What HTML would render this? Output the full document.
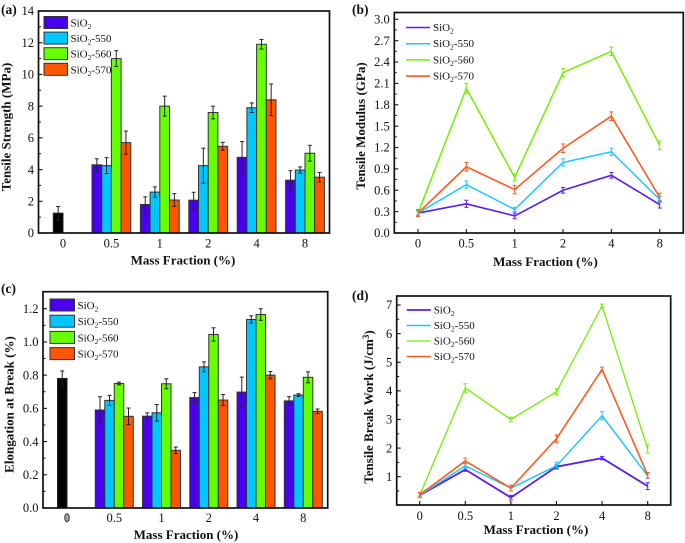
<!DOCTYPE html>
<html lang="en">
<head>
<meta charset="utf-8">
<title>SiO2 composite mechanical properties</title>
<style>
html,body{margin:0;padding:0;background:#fff;}
svg{display:block;}
text{font-family:"Liberation Serif",serif;fill:#111;}
</style>
</head>
<body>
<svg id="figure" width="685" height="543" viewBox="0 0 685 543" xmlns="http://www.w3.org/2000/svg"></svg>
<script>
const categories = ['0','0.5','1','2','4','8'];
const seriesNames = ['SiO2','SiO2-550','SiO2-560','SiO2-570'];
const barColors = ['#4a00f0','#00c8ff','#66ff00','#ff5500'];
const lineColors = ['#5a1cf5','#1cc8ff','#70f000','#ff5a1e'];

const strengthTicks = ['0','2','4','6','8','10','12','14'];
const strengthControl = 1.25;
const strengthControlErr = 0.42;
const strengthSiO2 = [4.3,1.8,2.07,4.77,3.33];
const strengthSiO2Err = [0.38,0.48,0.5,1.0,0.6];
const strength550 = [4.25,2.58,4.25,7.9,3.97];
const strength550Err = [0.5,0.33,1.1,0.3,0.2];
const strength560 = [11.0,8.0,7.6,11.9,5.03];
const strength560Err = [0.5,0.63,0.4,0.3,0.5];
const strength570 = [5.7,2.08,5.47,8.4,3.52];
const strength570Err = [0.73,0.4,0.25,1.0,0.3];

const modulusTicks = ['0.0','0.3','0.6','0.9','1.2','1.5','1.8','2.1','2.4','2.7','3.0'];
const modulusSiO2 = [0.28,0.41,0.24,0.6,0.81,0.4];
const modulusSiO2Err = [0.03,0.05,0.04,0.04,0.04,0.05];
const modulus550 = [0.28,0.68,0.33,0.99,1.14,0.47];
const modulus550Err = [0.03,0.05,0.03,0.05,0.05,0.04];
const modulus560 = [0.28,2.03,0.78,2.25,2.55,1.23];
const modulus560Err = [0.04,0.07,0.05,0.06,0.06,0.06];
const modulus570 = [0.28,0.93,0.61,1.19,1.64,0.5];
const modulus570Err = [0.05,0.06,0.06,0.06,0.06,0.06];

const elongationTicks = ['0.0','0.2','0.4','0.6','0.8','1.0','1.2'];
const elongationControl = 0.78;
const elongationControlErr = 0.045;
const elongationSiO2 = [0.59,0.553,0.665,0.698,0.645];
const elongationSiO2Err = [0.08,0.02,0.03,0.09,0.025];
const elongation550 = [0.648,0.573,0.85,1.135,0.68];
const elongation550Err = [0.03,0.05,0.03,0.022,0.008];
const elongation560 = [0.75,0.748,1.045,1.165,0.787];
const elongation560Err = [0.008,0.03,0.04,0.035,0.033];
const elongation570 = [0.552,0.347,0.65,0.8,0.582];
const elongation570Err = [0.05,0.02,0.033,0.022,0.014];

const workTicks = ['1','2','3','4','5','6','7'];
const workSiO2 = [0.35,1.25,0.27,1.35,1.65,0.67];
const workSiO2Err = [0.08,0.06,0.08,0.06,0.06,0.12];
const work550 = [0.35,1.38,0.6,1.38,3.13,1.03];
const work550Err = [0.08,0.08,0.1,0.13,0.14,0.1];
const work560 = [0.35,4.1,3.0,3.97,6.97,1.97];
const work560Err = [0.08,0.15,0.08,0.1,0.06,0.14];
const work570 = [0.37,1.55,0.6,2.33,4.75,1.05];
const work570Err = [0.08,0.1,0.1,0.13,0.08,0.1];

const NS = 'http://www.w3.org/2000/svg';
const root = document.getElementById('figure');

function make(tag, parent, attrs) {
  const el = document.createElementNS(NS, tag);
  for (const k in attrs) el.setAttribute(k, attrs[k]);
  parent.appendChild(el);
  return el;
}
function linear(d0, d1, r0, r1) {
  return v => r0 + (v - d0) * (r1 - r0) / (d1 - d0);
}
function seriesLabel(parent, name, x, y, size) {
  const t = make('text', parent, {x: x, y: y, 'font-size': size});
  
  
  const rest = name.slice(4);
  t.appendChild(document.createTextNode('SiO'));
  const sub = make('tspan', t, {dy: 2.5, 'font-size': size * 0.68});
  sub.textContent = '2';
  if (rest) {
    const r = make('tspan', t, {dy: -2.5});
    r.textContent = rest;
  }
}
function errorBar(parent, x, yTop, yBottom, color, cap, width) {
  const g = make('g', parent, {stroke: color, 'stroke-width': width, fill: 'none'});
  
  
  make('line', g, {x1: x, x2: x, y1: yTop, y2: yBottom});
  make('line', g, {x1: x - cap, x2: x + cap, y1: yTop, y2: yTop});
  make('line', g, {x1: x - cap, x2: x + cap, y1: yBottom, y2: yBottom});
}
function drawAxes(g, p) {
  const xs = p.xScale, ys = p.yScale;
  const frame = make('rect', g, {x: p.left, y: p.top, width: p.right - p.left, height: p.bottom - p.top, fill: 'none', stroke: '#111', 'stroke-width': 1.7});
  
  
  const yAxis = make('g', g, {});
  
  
  p.ticks.forEach((label, i) => {
    const v = parseFloat(label);
    const y = ys(v);
    make('line', yAxis, {x1: p.left, x2: p.left + 4, y1: y, y2: y, stroke: '#111', 'stroke-width': 1.1});
    const t = make('text', yAxis, {x: p.left - 4.5, y: y + 4.2, 'font-size': 12.5, 'text-anchor': 'end'});
    
    
    t.textContent = label;
    const m = v + p.minor;
    if (ys(m) > p.top) make('line', yAxis, {x1: p.left, x2: p.left + 2.5, y1: ys(m), y2: ys(m), stroke: '#111', 'stroke-width': 1});
    if (i === 0 && v - p.minor >= 0) make('line', yAxis, {x1: p.left, x2: p.left + 2.5, y1: ys(v - p.minor), y2: ys(v - p.minor), stroke: '#111', 'stroke-width': 1});
  });
  const xAxis = make('g', g, {});
  
  
  categories.forEach((c, i) => {
    const x = xs(i);
    if (p.xTicks) make('line', xAxis, {x1: x, x2: x, y1: p.bottom, y2: p.bottom - 4, stroke: '#111', 'stroke-width': 1.1});
    const t = make('text', xAxis, {x: x, y: p.bottom + p.tickGap, 'font-size': 12.5, 'text-anchor': 'middle'});
    
    
    t.textContent = c;
  });
  if (p.zeroMark) make('line', xAxis, {x1: xs(0), x2: xs(0), y1: p.bottom + p.tickGap - 9, y2: p.bottom + p.tickGap + 0.5, stroke: '#333', 'stroke-width': 0.9});
  const xt = make('text', g, {x: p.xTitleX, y: p.xTitleY, 'font-size': 13, 'font-weight': 'bold', 'text-anchor': 'middle'});
  
  
  xt.textContent = 'Mass Fraction (%)';
  const yt = make('text', g, {x: 0, y: 0, 'font-size': 13, 'font-weight': 'bold', 'text-anchor': 'middle', transform: 'translate(' + p.yTitleX + ',' + p.yTitleY + ') rotate(-90)'});
  
  
  yt.textContent = p.yTitle;
  if (p.sup) {
    const s = make('tspan', yt, {dy: -4, 'font-size': 9});
    s.textContent = p.sup;
    const e = make('tspan', yt, {dy: 4});
    e.textContent = ')';
  }
  const pl = make('text', g, {x: p.tagX, y: p.tagY, 'font-size': 13.5, 'font-weight': 'bold'});
  
  
  pl.textContent = p.tag;
}
function drawBarPanel(name, p, control, controlErr, values, errors) {
  const g = make('g', root, {});
  
  
  p.xScale = linear(0, 5, p.x0, p.x5);
  p.yScale = linear(p.yMin, p.yMax, p.y0, p.y1);
  const ys = p.yScale, xs = p.xScale, bw = p.barW;
  const cx = xs(0) - bw / 2;
  const cb = make('rect', g, {x: cx - bw / 2, y: ys(control), width: bw, height: ys(0) - ys(control), fill: '#000', stroke: '#222', 'stroke-width': 1});
  
  
  errorBar(g, cx, ys(control + controlErr), ys(control - controlErr), '#222', 2, 1);
  values.forEach((series, s) => {
    series.forEach((v, i) => {
      const x = xs(i + 1) + (s - 1.5) * bw;
      const r = make('rect', g, {x: x - bw / 2, y: ys(v), width: bw, height: ys(0) - ys(v), fill: barColors[s], stroke: '#333', 'stroke-width': 1});
      
      
      errorBar(g, x, ys(v + errors[s][i]), ys(v - errors[s][i]), '#222', 2, 1);
    });
  });
  drawAxes(g, p);
  const lg = make('g', g, {});
  
  
  seriesNames.forEach((n, s) => {
    const sw = make('rect', lg, {x: p.lgX, y: p.lgY + s * p.lgStep, width: p.lgW, height: 12, fill: barColors[s], stroke: '#333', 'stroke-width': 1});
    
    
    seriesLabel(lg, n, p.lgX + p.lgW + 3, p.lgY + s * p.lgStep + 10, 11);
  });
}
function drawLinePanel(name, p, values, errors) {
  const g = make('g', root, {});
  
  
  p.xScale = linear(0, 5, p.x0, p.x5);
  p.yScale = linear(p.yMin, p.yMax, p.y0, p.y1);
  const ys = p.yScale, xs = p.xScale;
  values.forEach((series, s) => {
    const pts = series.map((v, i) => xs(i) + ',' + ys(v)).join(' ');
    const l = make('polyline', g, {points: pts, fill: 'none', stroke: lineColors[s], 'stroke-width': p.lineW[s], 'stroke-linejoin': 'miter'});
    
    
    series.forEach((v, i) => {
      errorBar(g, xs(i), ys(v + errors[s][i]), ys(v - errors[s][i]), lineColors[s], 2, 1);
    });
  });
  drawAxes(g, p);
  const lg = make('g', g, {});
  
  
  seriesNames.forEach((n, s) => {
    const y = p.lgY + s * p.lgStep;
    const ll = make('line', lg, {x1: p.lgX, x2: p.lgX + 24, y1: y, y2: y, stroke: lineColors[s], 'stroke-width': p.lineW[s]});
    
    
    seriesLabel(lg, n, p.lgX + 27, y + 3.5, 11);
  });
}

drawBarPanel('panel-a-tensile-strength', {
  left: 38.5, right: 329.5, top: 11, bottom: 233,
  x0: 63, x5: 305, y0: 233, y1: 11, yMin: 0, yMax: 14, barW: 9.7,
  ticks: strengthTicks, minor: 1, tickGap: 14.5, xTicks: false,
  xTitleX: 183, xTitleY: 264.5, yTitleX: 10.5, yTitleY: 127, yTitle: 'Tensile Strength (MPa)',
  tag: '(a)', tagX: 1, tagY: 14,
  lgX: 44, lgY: 16.5, lgStep: 15.6, lgW: 23.5
}, strengthControl, strengthControlErr,
  [strengthSiO2, strength550, strength560, strength570],
  [strengthSiO2Err, strength550Err, strength560Err, strength570Err]);

drawLinePanel('panel-b-tensile-modulus', {
  left: 394.3, right: 683.3, top: 12.5, bottom: 233,
  x0: 418, x5: 659.7, y0: 233, y1: 19.3, yMin: 0, yMax: 3, lineW: [1.6,1.5,1.5,1.6],
  ticks: modulusTicks, minor: 0.15, tickGap: 14.7, xTicks: true,
  xTitleX: 545.5, xTitleY: 266, yTitleX: 365, yTitleY: 126, yTitle: 'Tensile Modulus (GPa)',
  tag: '(b)', tagX: 352, tagY: 14,
  lgX: 406, lgY: 27.5, lgStep: 16.2
}, [modulusSiO2, modulus550, modulus560, modulus570],
   [modulusSiO2Err, modulus550Err, modulus560Err, modulus570Err]);

drawBarPanel('panel-c-elongation-at-break', {
  left: 43, right: 327.7, top: 291.7, bottom: 508,
  x0: 67, x5: 303.3, y0: 508, y1: 308.7, yMin: 0, yMax: 1.2, barW: 9.5,
  ticks: elongationTicks, minor: 0.1, tickGap: 14, xTicks: false, zeroMark: true,
  xTitleX: 186, xTitleY: 539, yTitleX: 13.5, yTitleY: 404.5, yTitle: 'Elongation at Break (%)',
  tag: '(c)', tagX: 1, tagY: 293,
  lgX: 50, lgY: 299, lgStep: 16.2, lgW: 24.5
}, elongationControl, elongationControlErr,
  [elongationSiO2, elongation550, elongation560, elongation570],
  [elongationSiO2Err, elongation550Err, elongation560Err, elongation570Err]);

drawLinePanel('panel-d-tensile-break-work', {
  left: 396.7, right: 670.7, top: 296, bottom: 505,
  x0: 419.7, x5: 647.7, y0: 476.7, y1: 305, yMin: 1, yMax: 7, lineW: [1.8,1.5,1.3,1.6],
  ticks: workTicks, minor: 0.5, tickGap: 15, xTicks: true,
  xTitleX: 536, xTitleY: 534, yTitleX: 373, yTitleY: 407, yTitle: 'Tensile Break Work (J/cm', sup: '3',
  tag: '(d)', tagX: 352, tagY: 300,
  lgX: 406.7, lgY: 310, lgStep: 15.5
}, [workSiO2, work550, work560, work570],
   [workSiO2Err, work550Err, work560Err, work570Err]);
</script>
</body>
</html>
